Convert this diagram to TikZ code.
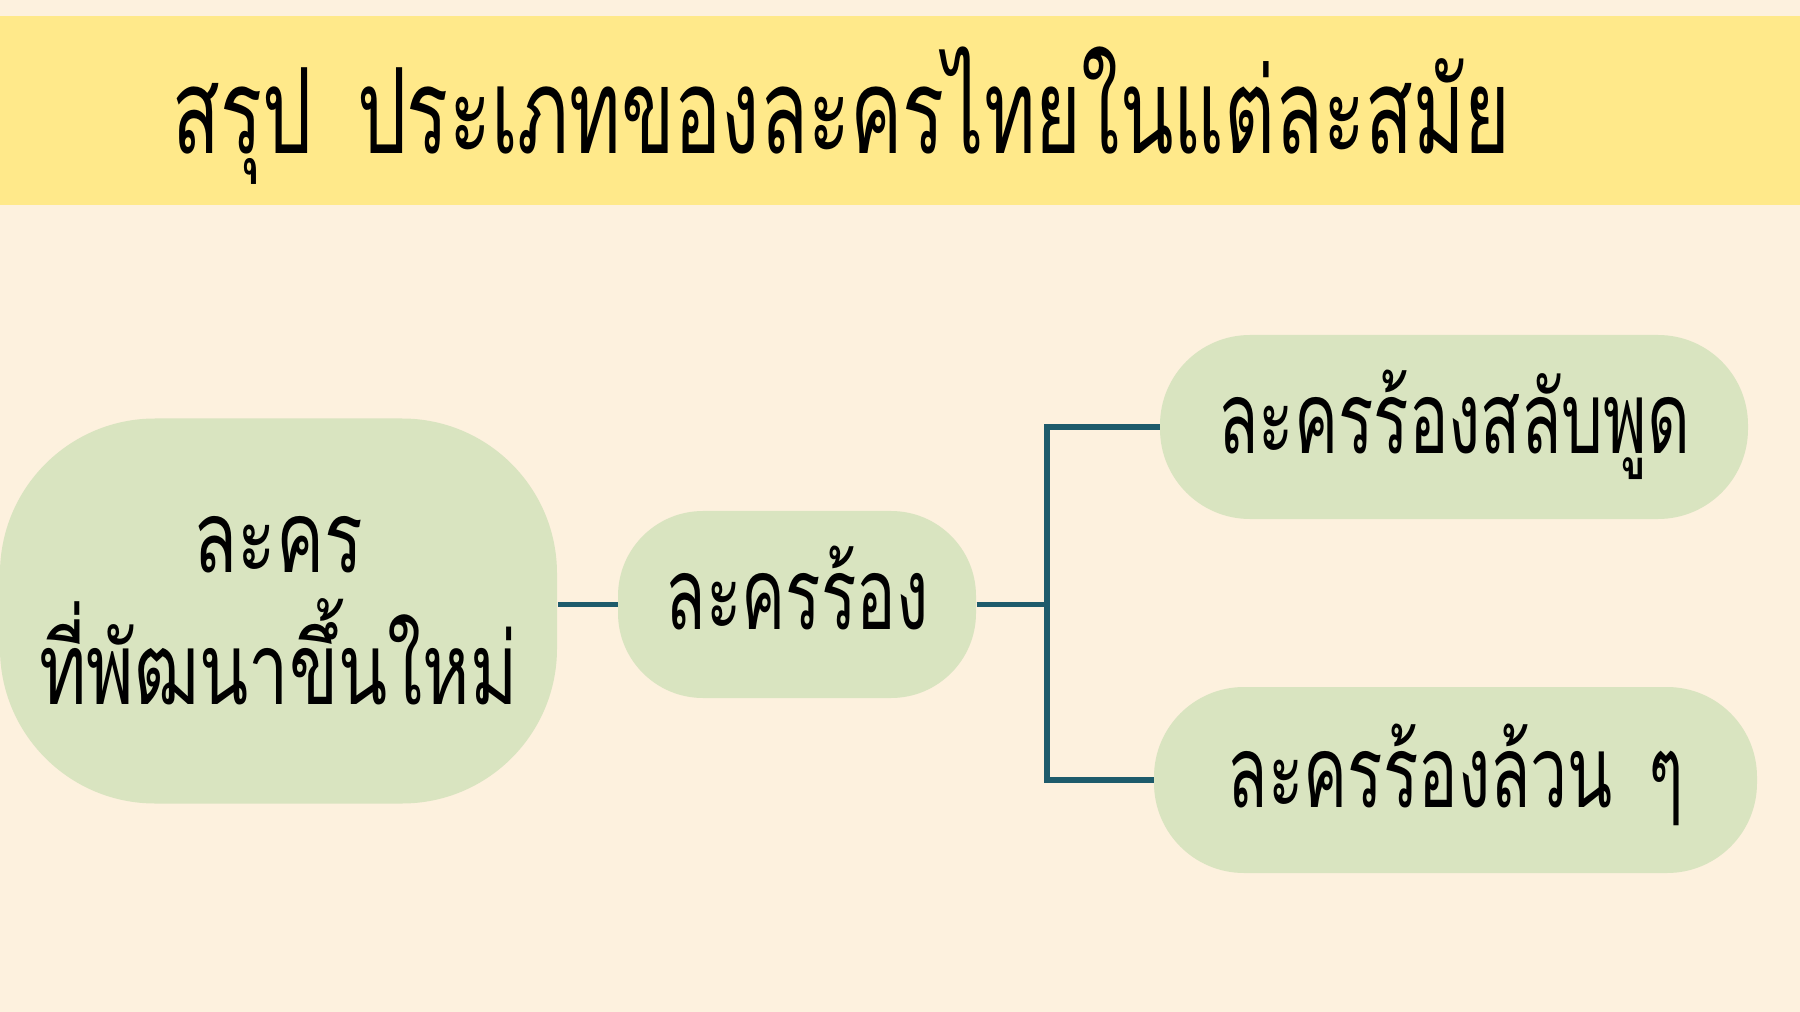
\documentclass[tikz,border=0pt]{standalone}
\usepackage{fontspec}
\newfontfamily\thaifont[Script=Thai,FakeStretch=0.66]{Loma}
\newfontfamily\thaiwide[Script=Thai,FakeStretch=0.72]{Loma}
\definecolor{bgcream}{HTML}{FDF1DE}
\definecolor{bandyellow}{HTML}{FFE98A}
\definecolor{blobgreen}{HTML}{D9E4C0}
\definecolor{linkteal}{HTML}{1E5B6B}
\newcommand{\baseat}[2]{\raisebox{#1}[0pt][0pt]{#2}}
\tikzset{
  blob/.style={fill=blobgreen, draw=none, inner sep=0pt, align=center,
    font=\thaifont\fontsize{40}{52.8}\selectfont, text=black},
  link/.style={draw=linkteal, line width=2.2pt}
}
\begin{document}
\begin{tikzpicture}[x=0.4pt, y=-0.4pt]
\fill[bgcream] (0,0) rectangle (1800,1012);
\useasboundingbox (0,0) rectangle (1800,1012);
\fill[bandyellow] (0,16) rectangle (1800,205);
\node[anchor=base west, inner sep=0pt, font=\thaifont\fontsize{47.5}{55}\selectfont] (title) at (172,154) {สรุป\hspace{18pt}ประเภทของละครไทยในแต่ละสมัย};
\node[blob, font=\thaiwide\fontsize{40}{52.8}\selectfont, minimum width=222.8pt, minimum height=154pt, rounded corners=62pt] (left) at (278.5,611) {ละคร\\ที่พัฒนาขึ้นใหม่};
\node[blob, minimum width=143.2pt, minimum height=74.8pt, rounded corners=34pt] (center) at (797,604.5) {\baseat{-9.8pt}{ละครร้อง}};
\node[blob, minimum width=235.2pt, minimum height=73.6pt, rounded corners=36pt] (tr) at (1454,427) {\baseat{-10.6pt}{ละครร้องสลับพูด}};
\node[blob, minimum width=241.2pt, minimum height=74.4pt, rounded corners=36pt] (br) at (1455.5,780) {\baseat{-11pt}{ละครร้องล้วน\hspace{14pt}ๆ}};
\coordinate (j) at (1047,604.5);
\draw[link] (center.west) -- (center.west -| left.east);
\draw[link] (center.east) -- (j);
\draw[link] (tr.west) -| (j) |- (br.west);
\end{tikzpicture}
\end{document}
